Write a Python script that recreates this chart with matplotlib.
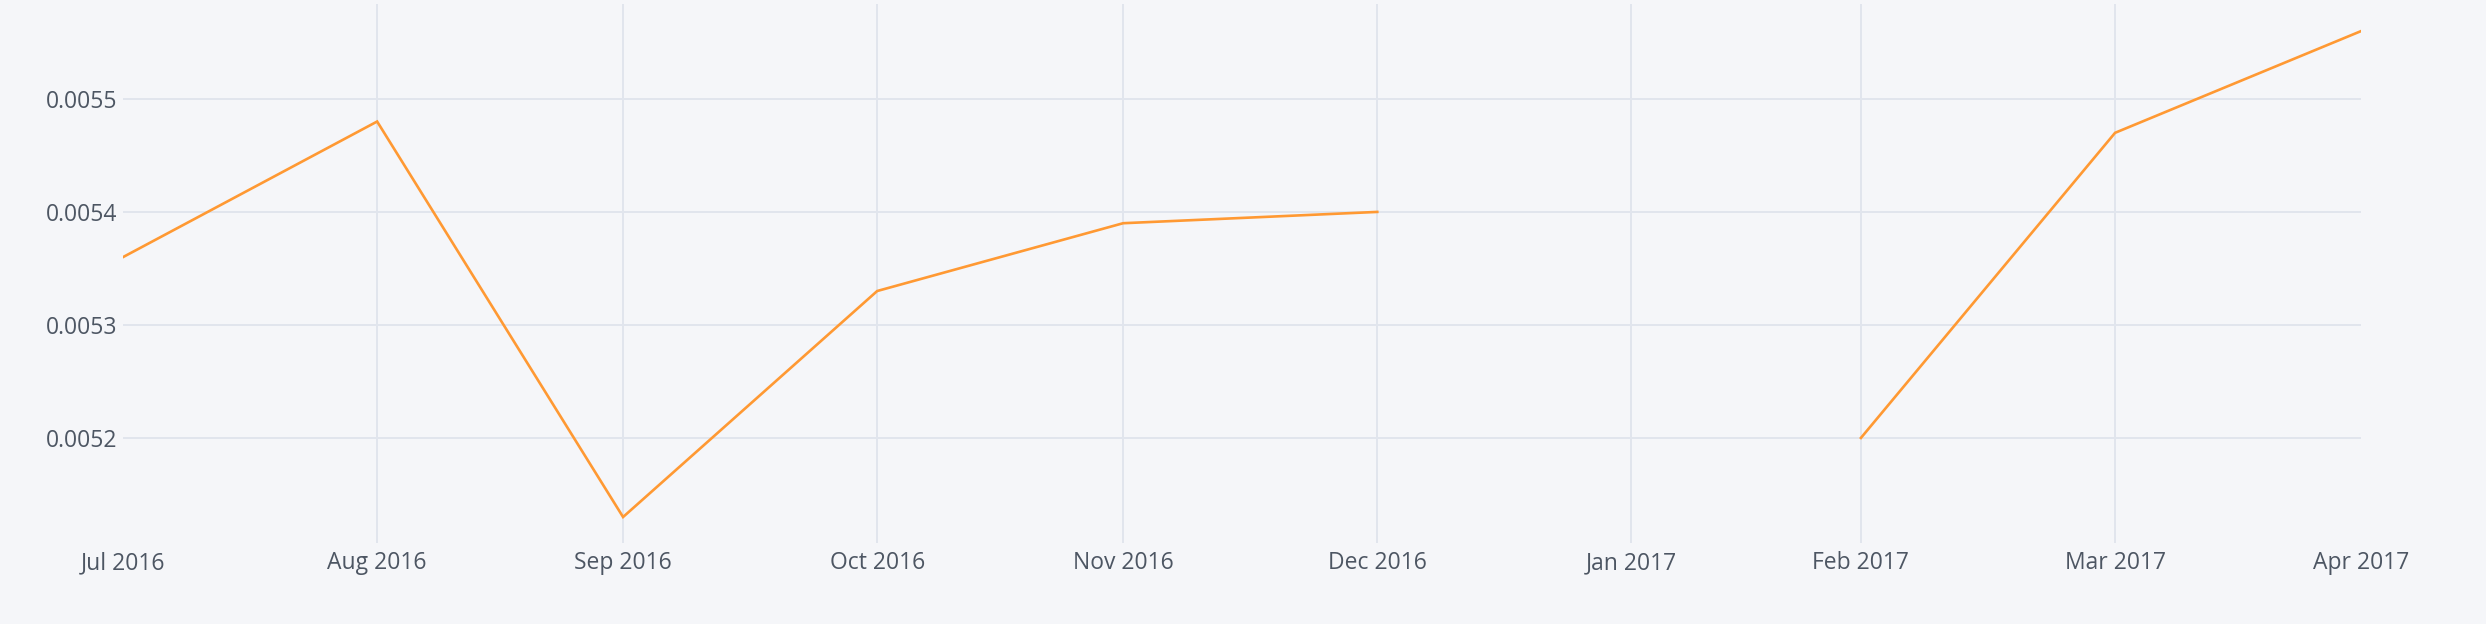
import matplotlib
matplotlib.use("Agg")
import matplotlib.pyplot as plt
import numpy as np
import pandas as pd

# monthly values (January 2017 missing)
months = pd.date_range("2016-07-31", periods=10, freq="ME")
month_labels = ["Jul 2016", "Aug 2016", "Sep 2016", "Oct 2016", "Nov 2016",
                "Dec 2016", "Jan 2017", "Feb 2017", "Mar 2017", "Apr 2017"]
values = [0.00536, 0.00548, 0.00513, 0.00533, 0.00539,
          0.00540, np.nan, 0.00520, 0.00547, 0.00556]
y_ticks = [0.0052, 0.0053, 0.0054, 0.0055]

bg = "#F5F6F9"
grid = "#E1E5ED"
txt = "#4D5663"

plt.rcParams["font.family"] = ["Open Sans", "DejaVu Sans"]

W, H = 2486, 624
fig = plt.figure(figsize=(W / 100, H / 100), dpi=100, facecolor=bg)
ax = fig.add_axes([123 / W, (H - 543) / H, (2361 - 123) / W, (543 - 4) / H])
ax.set_facecolor(bg)

ax.plot(months, values, color="#FF9933", linewidth=1.9, solid_joinstyle="miter")

ax.set_xlim(months[0], months[-1])
ax.set_ylim(0.005107, 0.005584)
ax.set_xticks(months)
ax.set_xticklabels(month_labels)
ax.set_yticks(y_ticks)
ax.set_yticklabels([f"{v:.4f}" for v in y_ticks])

ax.grid(True, color=grid, linewidth=1.4)
ax.set_axisbelow(True)
# plotly leaves no gridline on the range edges
xgl = ax.get_xgridlines()
xgl[0].set_visible(False)
xgl[-1].set_visible(False)
for s in ax.spines.values():
    s.set_visible(False)
ax.tick_params(axis="both", length=0, labelsize=16.5, labelcolor=txt)
ax.tick_params(axis="x", pad=6)
ax.tick_params(axis="y", pad=4)

fig.savefig("out.png", dpi=100, facecolor=bg)
